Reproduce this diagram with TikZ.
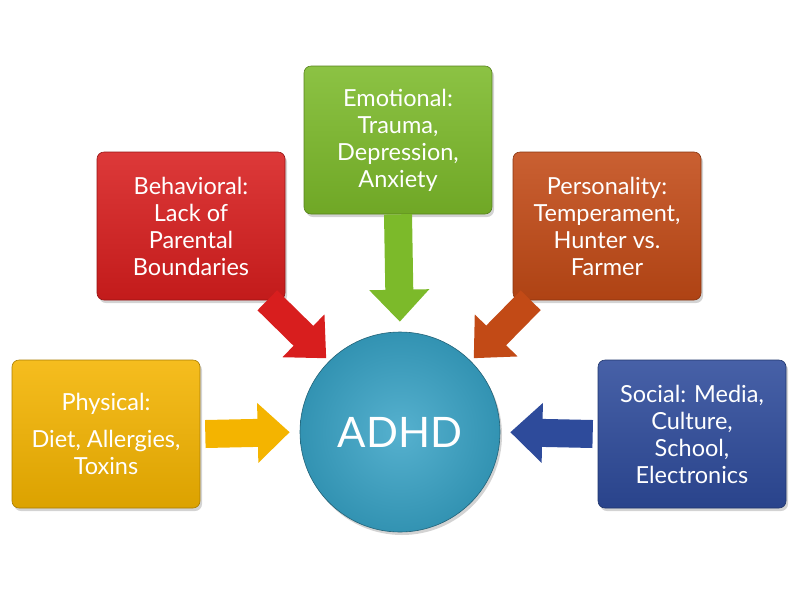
\documentclass[tikz,border=0pt]{standalone}
\usepackage{fontspec}
\setmainfont{Lato}
\usetikzlibrary{positioning,arrows.meta,shadows}
\definecolor{physyellow}{HTML}{F4B400}
\definecolor{behred}{HTML}{D81E1E}
\definecolor{emogreen}{HTML}{7CBA2A}
\definecolor{persorange}{HTML}{C24A16}
\definecolor{socblue}{HTML}{2E4B9B}
\definecolor{adhdteal}{HTML}{38A3C6}

\begin{document}
\begin{tikzpicture}[
    x=1pt, y=-1pt,
    every node/.style={font=\fontsize{23.5}{27}\selectfont, text=white, align=center},
    causebox/.style={
        rounded corners=7pt, minimum width=188pt, minimum height=148pt,
        top color=#1!88!white, bottom color=#1!90!black, draw=#1!70!black,
        line width=0.6pt, drop shadow={opacity=0.35, shadow xshift=2pt, shadow yshift=-3pt}
    },
    blockarr/.style={line width=28pt, color=#1,
        -{Triangle[length=32pt, width=58pt]}, shorten >=10pt},
]
\useasboundingbox (0,0) rectangle (800,598);

% === Center ===
\node[circle, minimum size=200pt, inner color=adhdteal!85!white, outer color=adhdteal!90!black,
    draw=adhdteal!60!black, line width=0.6pt,
    drop shadow={opacity=0.35, shadow xshift=2pt, shadow yshift=-3pt},
    font=\fontsize{42}{46}\selectfont] (adhd) at (400,432) {ADHD};

% === Causes ===
\node[causebox=physyellow] (phys) at (106,434) {Physical:\\[10pt]Diet, Allergies,\\Toxins};
\node[causebox=behred] (beh) at (191,226) {Behavioral:\\Lack of\\Parental\\Boundaries};
\node[causebox=emogreen] (emo) at (398,140) {Emotional:\\Trauma,\\Depression,\\Anxiety};
\node[causebox=persorange] (pers) at (607,226) {Personality:\\Temperament,\\Hunter vs.\\Farmer};
\node[causebox=socblue] (soc) at (692,434) {Social: Media,\\Culture,\\School,\\Electronics};

% === Arrows ===
\draw[blockarr=physyellow] ([xshift=5pt]phys.east) -- (adhd.west);
\draw[blockarr=socblue] ([xshift=-5pt]soc.west) -- (adhd.east);
\draw[blockarr=emogreen] (emo.south) -- (adhd.north);
\draw[blockarr=behred, shorten >=4pt] ([xshift=-18pt]beh.south east) -- (adhd.135);
\draw[blockarr=persorange, shorten >=4pt] ([xshift=18pt]pers.south west) -- (adhd.45);

\end{tikzpicture}
\end{document}
